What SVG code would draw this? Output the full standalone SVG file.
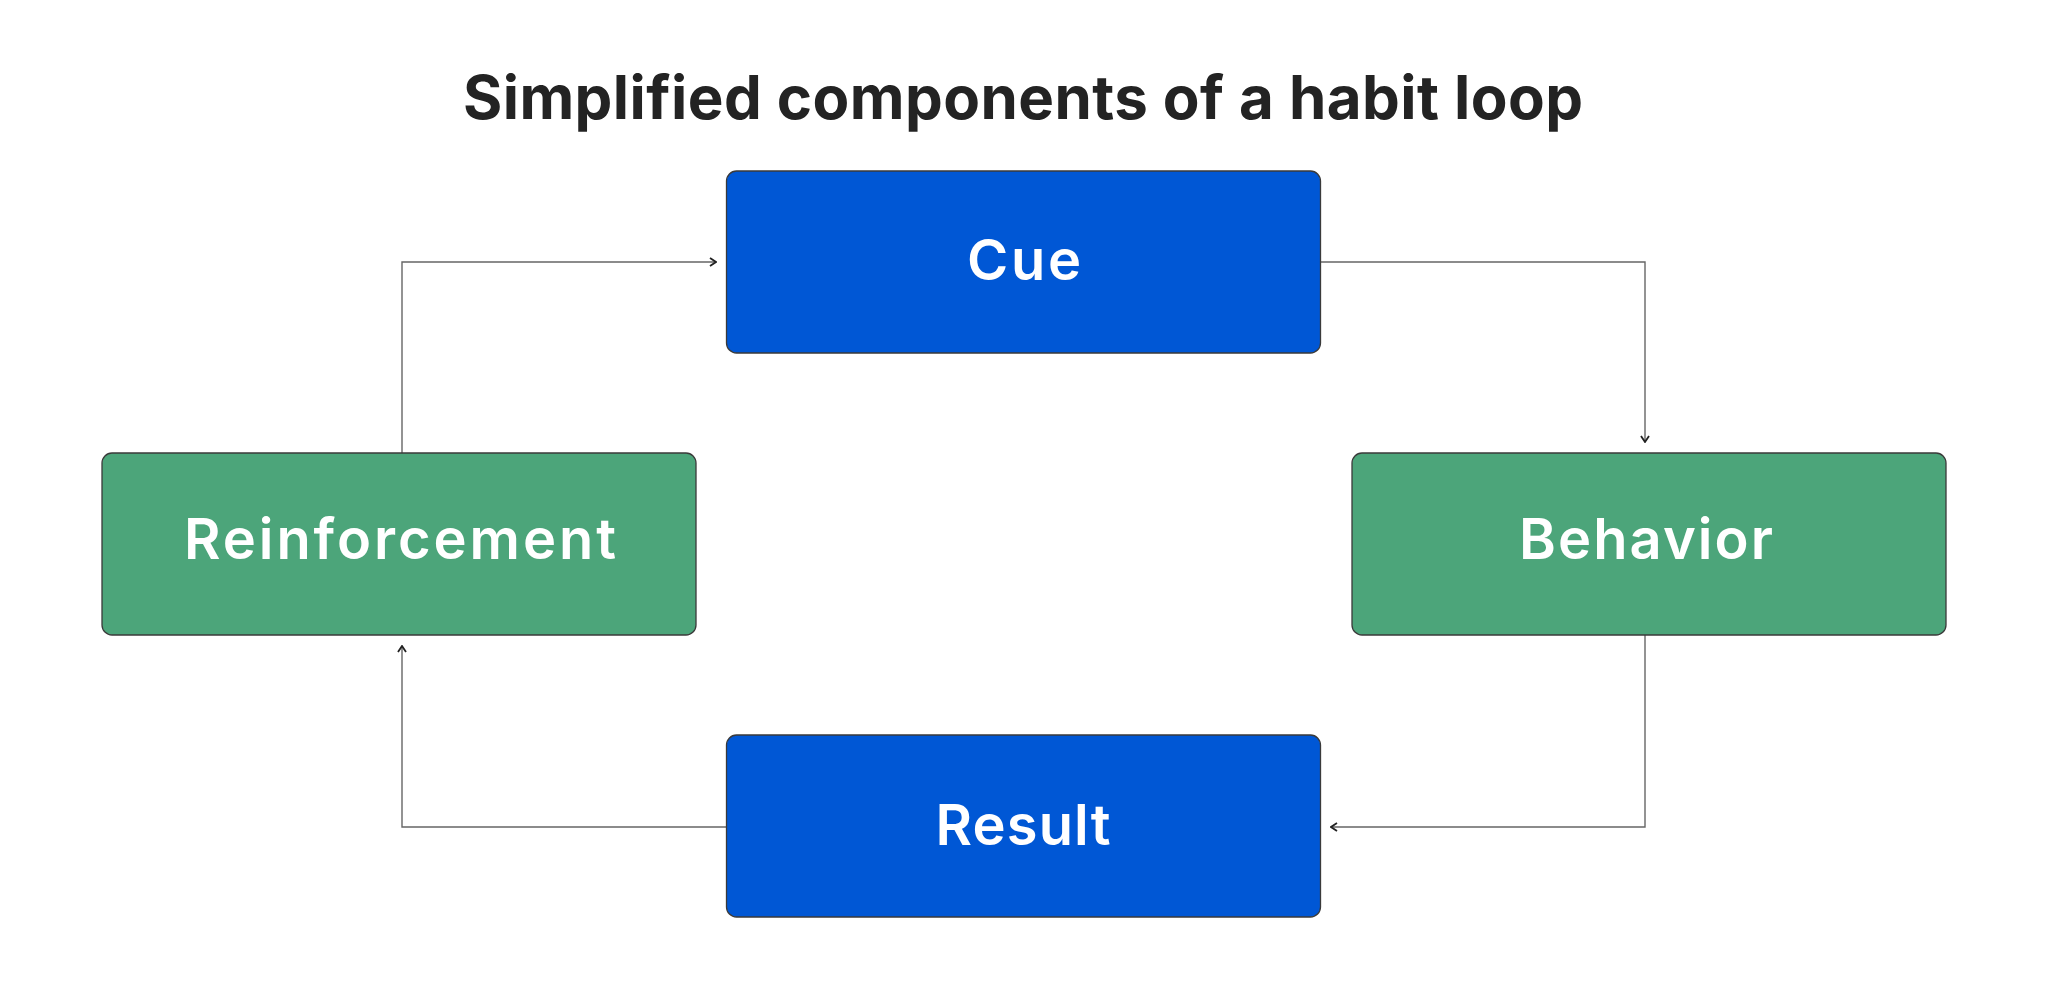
<svg xmlns="http://www.w3.org/2000/svg" width="2048" height="995" viewBox="0 0 2048 995">
<defs>
<style>
.title{font-family:Inter,"DejaVu Sans",sans-serif;font-weight:700;font-size:60px;fill:#232323}
.lbl{font-family:Inter,"DejaVu Sans",sans-serif;font-weight:600;font-size:56px;fill:#ffffff}
.blue{fill:#0057D5;stroke:#3a3a3a;stroke-width:1.3}
.green{fill:#4CA57A;stroke:#3a3a3a;stroke-width:1.3}
.conn{fill:none;stroke:#666;stroke-width:1.4}
</style>
<marker id="arr" viewBox="0 0 8 10" refX="7" refY="5" markerWidth="8" markerHeight="10" markerUnits="userSpaceOnUse" orient="auto">
<path d="M1,1 L7,5 L1,9" fill="none" stroke="#222" stroke-width="1.8"/>
</marker>
</defs>
<rect width="2048" height="995" fill="#ffffff"/>
<text class="title" x="1023" y="119" text-anchor="middle" textLength="1120" lengthAdjust="spacing">Simplified components of a habit loop</text>
<g id="connectors">
<path class="conn" d="M402,453 V262 H716" marker-end="url(#arr)"/>
<path class="conn" d="M1321,262 H1645 V442" marker-end="url(#arr)"/>
<path class="conn" d="M1645,635 V827 H1331" marker-end="url(#arr)"/>
<path class="conn" d="M726,827 H402 V646" marker-end="url(#arr)"/>
</g>
<g id="cue">
<rect class="blue" x="726.5" y="171" width="594" height="182" rx="10"/>
<text class="lbl" x="1024" y="280" text-anchor="middle" textLength="114" lengthAdjust="spacing">Cue</text>
</g>
<g id="behavior">
<rect class="green" x="1352" y="453" width="594" height="182" rx="10"/>
<text class="lbl" x="1646" y="559" text-anchor="middle" textLength="254" lengthAdjust="spacing">Behavior</text>
</g>
<g id="result">
<rect class="blue" x="726.5" y="735" width="594" height="182" rx="10"/>
<text class="lbl" x="1023" y="845" text-anchor="middle" textLength="175" lengthAdjust="spacing">Result</text>
</g>
<g id="reinforcement">
<rect class="green" x="102" y="453" width="594" height="182" rx="10"/>
<text class="lbl" x="400" y="559" text-anchor="middle" textLength="432" lengthAdjust="spacing">Reinforcement</text>
</g>
</svg>
